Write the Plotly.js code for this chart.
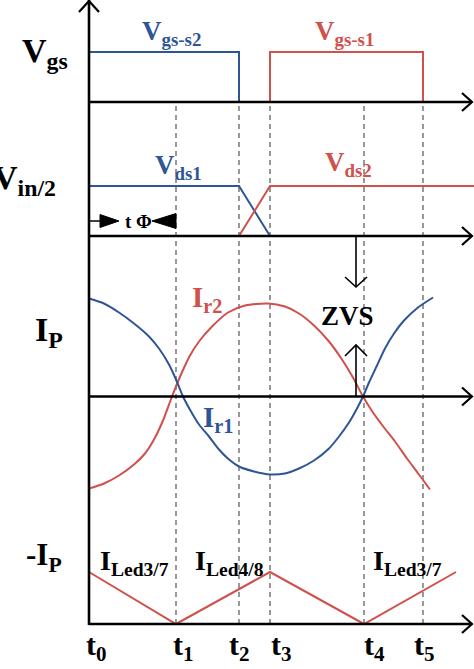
<!DOCTYPE html>
<html><head><meta charset="utf-8">
<script src="https://cdn.plot.ly/plotly-3.0.1.min.js"></script>
<style>html,body{margin:0;padding:0;background:#fff;overflow:hidden}#chart{width:474px;height:669px}</style>
</head><body><div id="chart"></div>
<script>
// ---------- data (time in arbitrary units, t0 = 0) ----------
const tMarks  = [0, 8.7, 15.0, 18.1, 27.5, 33.4];
const tLabels = ['t<sub>0</sub>','t<sub>1</sub>','t<sub>2</sub>','t<sub>3</sub>','t<sub>4</sub>','t<sub>5</sub>'];

// gate-source voltages (normalised)
const vgsS2_t = [0, 0, 15.0, 15.0];
const vgsS2_v = [0, 1, 1, 0];
const vgsS1_t = [18.1, 18.1, 33.4, 33.4];
const vgsS1_v = [0, 1, 1, 0];

// drain-source voltages (normalised to Vin/2)
const vds1_t = [0, 15.0, 18.1];
const vds1_v = [1, 1, 0];
const vds2_t = [15.0, 18.1, 38.5];
const vds2_v = [0, 1, 1];

// resonant currents
const ir1_t = [0, 1.5, 3, 4.5, 6, 7, 8, 8.7, 9.4, 10.2, 11, 12, 13, 14, 15, 16.5, 18.1,
               19.6, 21, 22.5, 24, 25, 26, 26.8, 27.4, 28, 28.8, 29.6, 30.5, 31.5, 32.9, 34.4];
const ir1_v = [0.98, 0.93, 0.84, 0.73, 0.60, 0.48, 0.32, 0.17, 0, -0.15, -0.28, -0.40, -0.53, -0.63, -0.70, -0.75, -0.78,
               -0.77, -0.72, -0.64, -0.52, -0.40, -0.26, -0.12, 0, 0.14, 0.31, 0.48, 0.63, 0.76, 0.89, 0.99];
const ir2_t = [0, 1.5, 3, 4.5, 5.6, 6.5, 7.4, 8.3, 9.2, 10.1, 11, 12.3, 13.9, 15.6, 17.9,
               19.6, 21, 22.5, 24, 25.3, 26.4, 27.4, 28.4, 29.5, 30.6, 31.8, 33, 34.1];
const ir2_v = [-0.92, -0.87, -0.79, -0.68, -0.57, -0.43, -0.24, 0, 0.22, 0.41, 0.55, 0.70, 0.84, 0.91, 0.93,
               0.90, 0.83, 0.71, 0.55, 0.37, 0.19, 0, -0.16, -0.31, -0.45, -0.62, -0.78, -0.93];

// LED current (normalised)
const iled_t = [0, 8.7, 18.1, 27.5, 36.7];
const iled_v = [1, 0, 1, 0, 1];

// ---------- styling ----------
const BLUE = '#2E5596', RED = '#D0504B', BLK = '#000';
const FONT = 'Liberation Serif, Times New Roman, serif';
const W = 474, H = 669;
const X = px => px / W;
const Y = py => 1 - py / H;
function yr(base, s){ return [(base - H) / s, base / s]; }

const line = (x, y, ya, color, shape) => ({
  x, y, yaxis: ya, xaxis: 'x', mode: 'lines', hoverinfo: 'skip', showlegend: false,
  line: {color, width: 2, shape: shape || 'linear', smoothing: 0.75}
});

const traces = [
  line(vgsS2_t, vgsS2_v, 'y', BLUE),
  line(vgsS1_t, vgsS1_v, 'y', RED),
  line(vds1_t, vds1_v, 'y2', BLUE),
  line(vds2_t, vds2_v, 'y2', RED),
  line(ir2_t, ir2_v, 'y3', RED, 'spline'),
  line(ir1_t, ir1_v, 'y3', BLUE, 'spline'),
  line(iled_t, iled_v, 'y4', RED)
];

const shapes = [];
tMarks.slice(1).forEach(t => shapes.push({type:'line', xref:'x', yref:'paper', x0:t, x1:t, y0:Y(624), y1:Y(103),
  line:{color:'#555', width:1.2, dash:'5px,4px'}, layer:'below'}));
shapes.push({type:'line', xref:'x', yref:'paper', x0:0, x1:0, y0:Y(625), y1:Y(0), line:{color:BLK, width:2.6}});
shapes.push({type:'path', xref:'x', yref:'paper', xsizemode:'pixel', ysizemode:'pixel', xanchor:0, yanchor:Y(1),
  path:'M-10,-11 L0,0 L10,-11', line:{color:BLK, width:2.2}});
['y','y2','y3','y4'].forEach(ya => {
  shapes.push({type:'line', xref:'x', yref:ya, x0:0, x1:38.3, y0:0, y1:0, line:{color:BLK, width:2.4}});
  shapes.push({type:'path', xref:'x', yref:ya, xsizemode:'pixel', ysizemode:'pixel', xanchor:38.3, yanchor:0,
    path:'M-10,9 L0,0 L-10,-9', line:{color:BLK, width:2.2}});
});
// t-phi marker
shapes.push({type:'line', xref:'x', yref:'y2', x0:0, x1:1.1, y0:0.3, y1:0.3, line:{color:BLK, width:1.5}});
shapes.push({type:'path', xref:'x', yref:'y2', xsizemode:'pixel', ysizemode:'pixel', xanchor:1.1, yanchor:0.3,
  path:'M0,6.5 L19,0 L0,-6.5 Z', fillcolor:BLK, line:{color:BLK, width:1}});
shapes.push({type:'path', xref:'x', yref:'y2', xsizemode:'pixel', ysizemode:'pixel', xanchor:8.7, yanchor:0.3,
  path:'M0,7.5 L-24,0 L0,-7.5 Z', fillcolor:BLK, line:{color:BLK, width:1}});
// ZVS arrows
shapes.push({type:'line', xref:'x', yref:'y2', x0:26.7, x1:26.7, y0:0, y1:-1.02, line:{color:BLK, width:1.6}});
shapes.push({type:'path', xref:'x', yref:'y2', xsizemode:'pixel', ysizemode:'pixel', xanchor:26.7, yanchor:-1.02,
  path:'M-11,10 L0,0 L11,10', line:{color:BLK, width:1.6}});
shapes.push({type:'line', xref:'x', yref:'y3', x0:26.7, x1:26.7, y0:0, y1:0.515, line:{color:BLK, width:1.6}});
shapes.push({type:'path', xref:'x', yref:'y3', xsizemode:'pixel', ysizemode:'pixel', xanchor:26.7, yanchor:0.515,
  path:'M-11,-11 L0,0 L11,-11', line:{color:BLK, width:1.6}});

// ---------- text labels ----------
// [text, left px, baseline px, font size, colour]
const labelSpec = [
  ['V<sub>gs</sub>', 21, 66, 34, BLK],
  ['V<sub>gs-s2</sub>', 141, 43, 27, BLUE],
  ['V<sub>gs-s1</sub>', 314, 43, 27, RED],
  ['V<sub>in/2</sub>', -8, 193, 34, BLK],
  ['V<sub>ds1</sub>', 154, 177, 27, BLUE],
  ['V<sub>ds2</sub>', 324, 174, 27, RED],
  ['I<sub>P</sub>', 34, 345, 34, BLK],
  ['I<sub>r2</sub>', 191, 310, 29, RED],
  ['I<sub>r1</sub>', 202, 430, 29, BLUE],
  ['ZVS', 320, 326, 27, BLK],
  ['-I<sub>P</sub>', 25, 568, 31, BLK],
  ['I<sub>Led3/7</sub>', 99, 573, 28, BLK],
  ['I<sub>Led4/8</sub>', 194, 573, 28, BLK],
  ['I<sub>Led3/7</sub>', 372, 573, 28, BLK]
];
const annotations = labelSpec.map(([txt, l, b, f, c]) => ({
  xref:'paper', yref:'paper', x:X(l), y:Y(b - 0.37*f), xanchor:'left', yanchor:'middle',
  text:'<b>'+txt+'</b>', showarrow:false, borderpad:0, font:{family:FONT, size:f, color:c}
}));
annotations.push({xref:'x', yref:'paper', x:4.9, y:Y(221), xanchor:'center', yanchor:'middle',
  text:'<b>t \u03A6</b>', showarrow:false, borderpad:0, font:{family:FONT, size:19, color:BLK}});
const tShift = [-4, -4, -11, 0, -1, -10];
tMarks.forEach((t, i) => annotations.push({xref:'x', yref:'paper', x:t, xshift:tShift[i], y:Y(657 - 0.33*30),
  xanchor:'left', yanchor:'middle', text:'<b>'+tLabels[i]+'</b>', showarrow:false, borderpad:0,
  font:{family:FONT, size:30, color:BLK}}));

const hidden = r => ({range:r, domain:[0,1], visible:false, fixedrange:true});
const layout = {
  width:W, height:H, margin:{l:0, r:0, t:0, b:0}, paper_bgcolor:'#fff', plot_bgcolor:'#fff',
  showlegend:false,
  xaxis:{range:[-8.9, 38.5], domain:[0,1], visible:false, fixedrange:true},
  yaxis:hidden(yr(102, 50)),
  yaxis2:Object.assign(hidden(yr(236, 50)), {overlaying:'y'}),
  yaxis3:Object.assign(hidden(yr(396.5, 100)), {overlaying:'y'}),
  yaxis4:Object.assign(hidden(yr(624, 52)), {overlaying:'y'}),
  shapes, annotations
};
Plotly.newPlot('chart', traces, layout, {staticPlot:true, displayModeBar:false});
</script></body></html>
